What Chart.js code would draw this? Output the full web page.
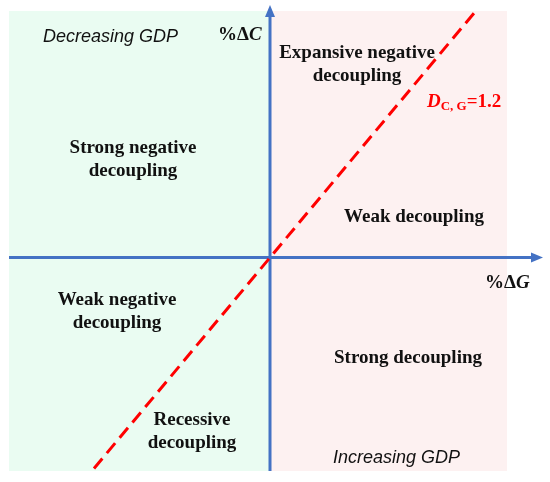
<!DOCTYPE html>
<html lang="en">
<head>
    <meta charset="UTF-8">
    <title>Decoupling quadrants</title>
    <script src="https://cdn.jsdelivr.net/npm/chart.js@4.4.0/dist/chart.umd.min.js"></script>
    <style>
        body { margin: 0; background: #ffffff; }
        #chart-container { width: 550px; height: 482px; }
    </style>
</head>
<body>
<div id="chart-container">
    <canvas id="chartCanvas"></canvas>
</div>

<script>
    // decoupling line D(C,G) = 1.2, its two ends
    const gdpChange = [-17.6, 20.7];
    const co2Change = [-21.1, 24.8];
    const ratioLabel = '=1.2';

    // quadrant names
    const quadrantNames = [
        ['Strong negative', 'decoupling'],
        ['Expansive negative', 'decoupling'],
        ['Weak decoupling'],
        ['Weak negative', 'decoupling'],
        ['Strong decoupling'],
        ['Recessive', 'decoupling']
    ];
    // where each name sits (centre x, first baseline y, in axis units)
    const namePlaces = [
        [-13.7, 10.45], [8.7, 19.95], [14.4, 3.55],
        [-15.3, -4.75], [13.8, -10.55], [-7.8, -16.75]
    ];

    const serifBold = 'bold 19px "Liberation Serif", "Times New Roman", serif';
    const serifBoldItalic = 'italic bold 19px "Liberation Serif", "Times New Roman", serif';
    const sansItalic = 'italic 18px "Liberation Sans", Arial, sans-serif';
    const axisBlue = '#4472C4';
    const lineRed = '#FF0000';

    // draws pieces of text one after another from (px, py)
    function drawPieces(ctx, px, py, pieces) {
        let cx = px;
        for (const p of pieces) {
            ctx.font = p.font;
            ctx.fillStyle = p.color;
            ctx.fillText(p.text, cx, py + (p.dy || 0));
            cx += ctx.measureText(p.text).width;
        }
    }

    const quadrantPlugin = {
        id: 'quadrants',
        beforeDatasetsDraw(chart) {
            const {ctx, scales: {x, y}} = chart;
            const x0 = x.getPixelForValue(0);
            const y0 = y.getPixelForValue(0);
            const left = x.getPixelForValue(-26.1);
            const right = x.getPixelForValue(23.7);
            const top = y.getPixelForValue(24.65);
            const bottom = y.getPixelForValue(-21.35);

            ctx.save();
            ctx.fillStyle = '#EAFCF2';
            ctx.fillRect(left, top, x0 - left, bottom - top);
            ctx.fillStyle = '#FDF1F1';
            ctx.fillRect(x0, top, right - x0, bottom - top);

            // axes with arrows
            const xTip = x.getPixelForValue(27.3);
            const yTip = y.getPixelForValue(25.25);
            ctx.strokeStyle = axisBlue;
            ctx.fillStyle = axisBlue;
            ctx.lineWidth = 3;
            ctx.beginPath();
            ctx.moveTo(left, y0);
            ctx.lineTo(xTip - 10, y0);
            ctx.moveTo(x0, bottom);
            ctx.lineTo(x0, yTip + 10);
            ctx.stroke();

            ctx.beginPath();
            ctx.moveTo(xTip, y0);
            ctx.lineTo(xTip - 12, y0 - 5);
            ctx.lineTo(xTip - 12, y0 + 5);
            ctx.closePath();
            ctx.fill();
            ctx.beginPath();
            ctx.moveTo(x0, yTip);
            ctx.lineTo(x0 - 5, yTip + 12);
            ctx.lineTo(x0 + 5, yTip + 12);
            ctx.closePath();
            ctx.fill();
            ctx.restore();
        },
        afterDatasetsDraw(chart) {
            const {ctx, scales: {x, y}} = chart;
            ctx.save();
            ctx.textBaseline = 'alphabetic';

            // quadrant names
            ctx.textAlign = 'center';
            ctx.font = serifBold;
            ctx.fillStyle = '#111111';
            quadrantNames.forEach((lines, i) => {
                const px = x.getPixelForValue(namePlaces[i][0]);
                const py = y.getPixelForValue(namePlaces[i][1]);
                lines.forEach((t, k) => ctx.fillText(t, px, py + k * 23));
            });

            ctx.textAlign = 'left';
            ctx.font = sansItalic;
            ctx.fillText('Decreasing GDP', x.getPixelForValue(-22.7), y.getPixelForValue(21.55));
            ctx.fillText('Increasing GDP', x.getPixelForValue(6.3), y.getPixelForValue(-20.55));

            // axis titles
            drawPieces(ctx, x.getPixelForValue(-5.2), y.getPixelForValue(21.75), [
                {text: '%\u0394', font: serifBold, color: '#111111'},
                {text: 'C', font: serifBoldItalic, color: '#111111'}
            ]);
            drawPieces(ctx, x.getPixelForValue(21.5), y.getPixelForValue(-3.05), [
                {text: '%\u0394', font: serifBold, color: '#111111'},
                {text: 'G', font: serifBoldItalic, color: '#111111'}
            ]);

            // line label
            drawPieces(ctx, x.getPixelForValue(15.7), y.getPixelForValue(15.05), [
                {text: 'D', font: serifBoldItalic, color: lineRed},
                {text: 'C, G', font: 'bold 13px "Liberation Serif", "Times New Roman", serif', color: lineRed, dy: 3},
                {text: ratioLabel, font: serifBold, color: lineRed}
            ]);
            ctx.restore();
        }
    };

    const ctx = document.getElementById('chartCanvas').getContext('2d');
    const myChart = new Chart(ctx, {
        type: 'scatter',
        data: {
            datasets: [{
                label: 'D(C,G) = 1.2',
                data: gdpChange.map((g, i) => ({x: g, y: co2Change[i]})),
                showLine: true,
                borderColor: lineRed,
                borderWidth: 3,
                borderDash: [13, 7],
                pointRadius: 0
            }]
        },
        options: {
            responsive: true,
            maintainAspectRatio: false,
            animation: false,
            layout: { padding: 0 },
            plugins: {
                legend: { display: false },
                tooltip: { enabled: false }
            },
            scales: {
                x: { type: 'linear', min: -27, max: 28, display: false },
                y: { type: 'linear', min: -22.45, max: 25.75, display: false }
            }
        },
        plugins: [quadrantPlugin]
    });
</script>
</body>
</html>
